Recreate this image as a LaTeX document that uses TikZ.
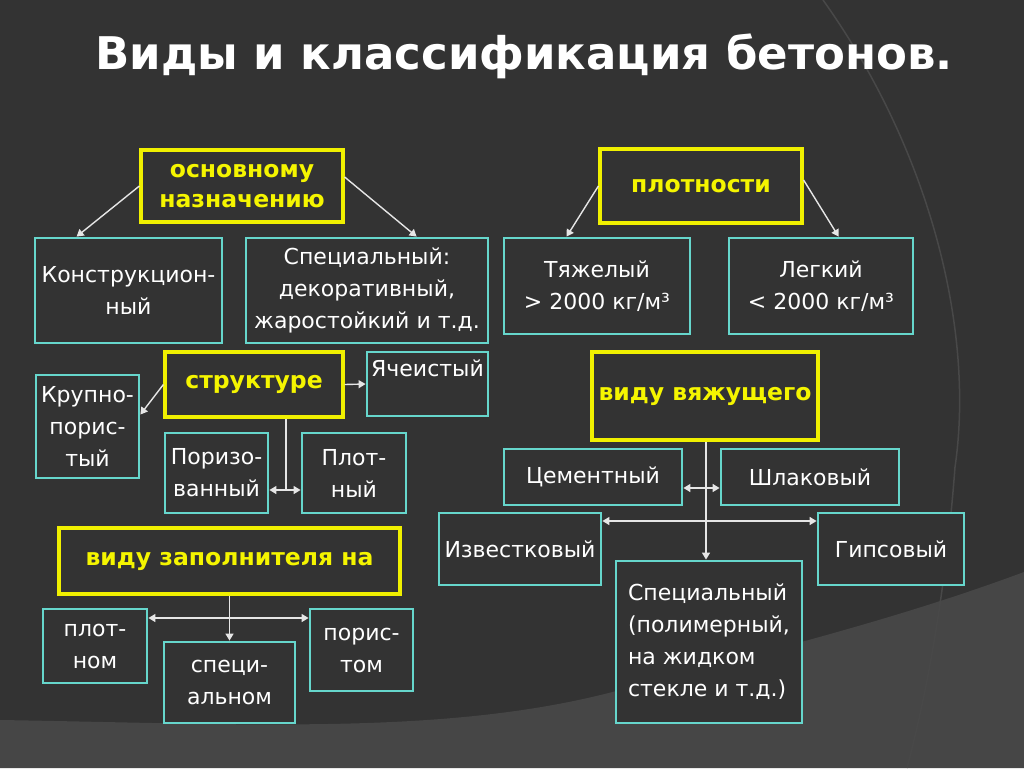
\documentclass[tikz,border=0pt]{standalone}
\usepackage{fontspec}
\setmainfont{DejaVu Sans}
\usetikzlibrary{arrows.meta,calc}
\definecolor{bg}{HTML}{333333}
\definecolor{bglight}{HTML}{464646}
\definecolor{arcline}{HTML}{484848}
\definecolor{ybox}{HTML}{F0F000}
\definecolor{ytext}{HTML}{F5F500}
\definecolor{cbox}{HTML}{66D6CC}
\definecolor{wline}{HTML}{E6E6E6}
\begin{document}
\begin{tikzpicture}[x=1pt,y=-1pt,
  ybx/.style={draw=ybox,line width=3.2pt,fill=bg,text=ytext,font=\fontsize{23.5}{30}\selectfont\bfseries,align=center,inner sep=0pt},
  cbx/.style={draw=cbox,line width=2.8pt,fill=bg,text=white,font=\fontsize{22}{32}\selectfont,align=center,inner sep=0pt},
  arr/.style={draw=wline,line width=1.4pt,-{Triangle[length=7pt,width=8pt]}},
  darr/.style={draw=wline,line width=1.4pt,{Triangle[length=7pt,width=8pt]}-{Triangle[length=7pt,width=8pt]}},
  ln/.style={draw=wline,line width=1.4pt}]
% background
\fill[bg] (0,0) rectangle (1024,768);
\useasboundingbox (0,0) rectangle (1024,768);
\fill[bglight] (0,768) -- (0,720) .. controls (250,724) and (450,736) .. (620,690) .. controls (780,648) and (900,618) .. (1024,572) -- (1024,768) -- cycle;
\draw[arcline,line width=1.5pt] (823,0) .. controls (930,150) and (975,330) .. (955,467) .. controls (945,600) and (925,700) .. (907,768);
% title
\node[text=white,font=\fontsize{45}{50}\selectfont\bfseries,anchor=base west,inner sep=0pt] (title) at (95,70) {Виды и классификация бетонов.};
% boxes
\node[ybx,minimum width=202pt,minimum height=72pt] (osn) at (242,186) {основному\\назначению};
\node[cbx,minimum width=187pt,minimum height=105pt] (konstr) at (128.5,290.5) {Конструкцион-\\ный};
\node[cbx,minimum width=242pt,minimum height=105pt] (spec1) at (367,290.5) {Специальный:\\декоративный,\\жаростойкий и т.д.};
\node[ybx,minimum width=202pt,minimum height=74pt] (plotn) at (701,186) {плотности};
\node[cbx,minimum width=186pt,minimum height=96pt] (tyazh) at (597,286) {Тяжелый\\> 2000 кг/м³};
\node[cbx,minimum width=184pt,minimum height=96pt] (legk) at (821,286) {Легкий\\< 2000 кг/м³};
\node[ybx,minimum width=178pt,minimum height=65pt] (strukt) at (254,384.5) {структуре};
\node[cbx,minimum width=121pt,minimum height=64pt] (yach) at (427.5,384) {Ячеистый\\~};
\node[cbx,minimum width=103pt,minimum height=103pt] (krupn) at (87.5,426.5) {Крупно-\\порис-\\тый};
\node[cbx,minimum width=103pt,minimum height=80pt] (poriz) at (216.5,473) {Поризо-\\ванный};
\node[cbx,minimum width=104pt,minimum height=80pt] (plotny) at (354,473) {Плот-\\ный};
\node[ybx,minimum width=341pt,minimum height=66pt] (zapoln) at (229.5,561) {виду заполнителя на};
\node[cbx,minimum width=104pt,minimum height=74pt] (plotnom) at (95,646) {плот-\\ном};
\node[cbx,minimum width=131pt,minimum height=81pt] (specaln) at (229.5,682.5) {специ-\\альном};
\node[cbx,minimum width=103pt,minimum height=82pt] (poristom) at (361.5,650) {порис-\\том};
\node[ybx,minimum width=226pt,minimum height=88pt] (vyazh) at (705,396) {виду вяжущего};
\node[cbx,minimum width=178pt,minimum height=56pt] (cement) at (593,477) {Цементный};
\node[cbx,minimum width=178pt,minimum height=56pt] (shlak) at (810,477) {Шлаковый};
\node[cbx,minimum width=162pt,minimum height=72pt] (izvest) at (520,549) {Известковый};
\node[cbx,minimum width=146pt,minimum height=72pt] (gips) at (891,549) {Гипсовый};
\node[cbx,minimum width=186pt,minimum height=162pt,align=left] (spec2) at (709,642) {Специальный\\(полимерный,\\на жидком\\стекле и т.д.)};
% connectors
\draw[arr] (osn.west) -- ([xshift=43pt]konstr.north west);
\draw[arr] ([yshift=9pt]osn.east) -- ([xshift=172pt]spec1.north west);
\draw[arr] (plotn.west) -- ([xshift=64pt]tyazh.north west);
\draw[arr] ([yshift=6pt]plotn.east) -- ([xshift=111pt]legk.north west);
\draw[arr] (strukt.west) -- ([yshift=12pt]krupn.east);
\draw[arr] (strukt.east) -- (yach.west);
\coordinate (sj) at (286,490);
\draw[ln] (strukt.south -| sj) -- (sj);
\draw[darr] (poriz.east |- sj) -- (plotny.west |- sj);
\coordinate (zj) at (229.5,618);
\draw[arr] (zapoln.south) -- (specaln.north);
\draw[darr] (plotnom.east |- zj) -- (poristom.west |- zj);
\coordinate (vj) at (706,488);
\coordinate (vk) at (706,521);
\draw[arr] (vyazh.south -| vj) -- (spec2.north -| vj);
\draw[darr] (cement.east |- vj) -- (shlak.west |- vj);
\draw[darr] (izvest.east |- vk) -- (gips.west |- vk);
\end{tikzpicture}
\end{document}
